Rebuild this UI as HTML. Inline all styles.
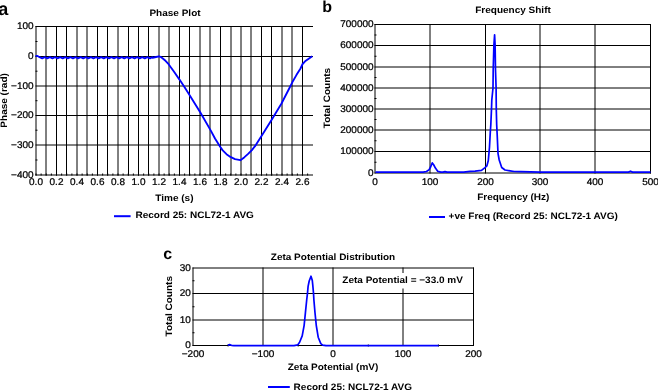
<!DOCTYPE html>
<html><head><meta charset="utf-8"><style>
html,body{margin:0;padding:0;background:#fff;}
body{width:658px;height:390px;overflow:hidden;}
svg{display:block;font-family:'Liberation Sans',Arial,sans-serif;text-rendering:geometricPrecision;}
text{fill:#000;} .r{stroke:#000;stroke-width:0.25px;}
</style></head><body>
<svg width="658" height="390" viewBox="0 0 658 390">
<rect width="658" height="390" fill="#fff"/>
<line x1="36.0" y1="26.0" x2="36.0" y2="175.5" stroke="#000" stroke-width="1"/>
<line x1="46.0" y1="26.0" x2="46.0" y2="175.5" stroke="#000" stroke-width="1"/>
<line x1="56.5" y1="26.0" x2="56.5" y2="175.5" stroke="#000" stroke-width="1"/>
<line x1="66.5" y1="26.0" x2="66.5" y2="175.5" stroke="#000" stroke-width="1"/>
<line x1="77.0" y1="26.0" x2="77.0" y2="175.5" stroke="#000" stroke-width="1"/>
<line x1="87.0" y1="26.0" x2="87.0" y2="175.5" stroke="#000" stroke-width="1"/>
<line x1="97.5" y1="26.0" x2="97.5" y2="175.5" stroke="#000" stroke-width="1"/>
<line x1="107.5" y1="26.0" x2="107.5" y2="175.5" stroke="#000" stroke-width="1"/>
<line x1="118.0" y1="26.0" x2="118.0" y2="175.5" stroke="#000" stroke-width="1"/>
<line x1="128.5" y1="26.0" x2="128.5" y2="175.5" stroke="#000" stroke-width="1"/>
<line x1="138.5" y1="26.0" x2="138.5" y2="175.5" stroke="#000" stroke-width="1"/>
<line x1="148.5" y1="26.0" x2="148.5" y2="175.5" stroke="#000" stroke-width="1"/>
<line x1="159.0" y1="26.0" x2="159.0" y2="175.5" stroke="#000" stroke-width="1"/>
<line x1="169.0" y1="26.0" x2="169.0" y2="175.5" stroke="#000" stroke-width="1"/>
<line x1="179.5" y1="26.0" x2="179.5" y2="175.5" stroke="#000" stroke-width="1"/>
<line x1="189.5" y1="26.0" x2="189.5" y2="175.5" stroke="#000" stroke-width="1"/>
<line x1="200.0" y1="26.0" x2="200.0" y2="175.5" stroke="#000" stroke-width="1"/>
<line x1="210.0" y1="26.0" x2="210.0" y2="175.5" stroke="#000" stroke-width="1"/>
<line x1="220.5" y1="26.0" x2="220.5" y2="175.5" stroke="#000" stroke-width="1"/>
<line x1="231.0" y1="26.0" x2="231.0" y2="175.5" stroke="#000" stroke-width="1"/>
<line x1="241.0" y1="26.0" x2="241.0" y2="175.5" stroke="#000" stroke-width="1"/>
<line x1="251.0" y1="26.0" x2="251.0" y2="175.5" stroke="#000" stroke-width="1"/>
<line x1="261.5" y1="26.0" x2="261.5" y2="175.5" stroke="#000" stroke-width="1"/>
<line x1="271.5" y1="26.0" x2="271.5" y2="175.5" stroke="#000" stroke-width="1"/>
<line x1="282.0" y1="26.0" x2="282.0" y2="175.5" stroke="#000" stroke-width="1"/>
<line x1="292.0" y1="26.0" x2="292.0" y2="175.5" stroke="#000" stroke-width="1"/>
<line x1="302.5" y1="26.0" x2="302.5" y2="175.5" stroke="#000" stroke-width="1"/>
<line x1="35.5" y1="26.5" x2="313.0" y2="26.5" stroke="#000" stroke-width="1"/>
<line x1="35.5" y1="56.5" x2="313.0" y2="56.5" stroke="#000" stroke-width="1"/>
<line x1="35.5" y1="86.0" x2="313.0" y2="86.0" stroke="#000" stroke-width="1"/>
<line x1="35.5" y1="115.5" x2="313.0" y2="115.5" stroke="#000" stroke-width="1"/>
<line x1="35.5" y1="145.0" x2="313.0" y2="145.0" stroke="#000" stroke-width="1"/>
<line x1="35.5" y1="175.0" x2="313.0" y2="175.0" stroke="#000" stroke-width="1"/>
<text class="r" transform="translate(33.6,29.3) scale(1,0.97)" font-size="10" font-weight="normal" text-anchor="end">100</text>
<text class="r" transform="translate(33.6,59.3) scale(1,0.97)" font-size="10" font-weight="normal" text-anchor="end">0</text>
<text class="r" transform="translate(33.6,88.8) scale(1,0.97)" font-size="10" font-weight="normal" text-anchor="end">−100</text>
<text class="r" transform="translate(33.6,118.3) scale(1,0.97)" font-size="10" font-weight="normal" text-anchor="end">−200</text>
<text class="r" transform="translate(33.6,147.8) scale(1,0.97)" font-size="10" font-weight="normal" text-anchor="end">−300</text>
<text class="r" transform="translate(33.6,177.8) scale(1,0.97)" font-size="10" font-weight="normal" text-anchor="end">−400</text>
<text class="r" transform="translate(36.0,185.3) scale(1,0.97)" font-size="10" font-weight="normal" text-anchor="middle">0.0</text>
<text class="r" transform="translate(56.5,185.3) scale(1,0.97)" font-size="10" font-weight="normal" text-anchor="middle">0.2</text>
<text class="r" transform="translate(77.0,185.3) scale(1,0.97)" font-size="10" font-weight="normal" text-anchor="middle">0.4</text>
<text class="r" transform="translate(97.5,185.3) scale(1,0.97)" font-size="10" font-weight="normal" text-anchor="middle">0.6</text>
<text class="r" transform="translate(118.0,185.3) scale(1,0.97)" font-size="10" font-weight="normal" text-anchor="middle">0.8</text>
<text class="r" transform="translate(138.5,185.3) scale(1,0.97)" font-size="10" font-weight="normal" text-anchor="middle">1.0</text>
<text class="r" transform="translate(159.0,185.3) scale(1,0.97)" font-size="10" font-weight="normal" text-anchor="middle">1.2</text>
<text class="r" transform="translate(179.5,185.3) scale(1,0.97)" font-size="10" font-weight="normal" text-anchor="middle">1.4</text>
<text class="r" transform="translate(200.0,185.3) scale(1,0.97)" font-size="10" font-weight="normal" text-anchor="middle">1.6</text>
<text class="r" transform="translate(220.5,185.3) scale(1,0.97)" font-size="10" font-weight="normal" text-anchor="middle">1.8</text>
<text class="r" transform="translate(241.0,185.3) scale(1,0.97)" font-size="10" font-weight="normal" text-anchor="middle">2.0</text>
<text class="r" transform="translate(261.5,185.3) scale(1,0.97)" font-size="10" font-weight="normal" text-anchor="middle">2.2</text>
<text class="r" transform="translate(282.0,185.3) scale(1,0.97)" font-size="10" font-weight="normal" text-anchor="middle">2.4</text>
<text class="r" transform="translate(302.5,185.3) scale(1,0.97)" font-size="10" font-weight="normal" text-anchor="middle">2.6</text>
<text transform="translate(175,15.8) scale(1,0.93)" font-size="10" font-weight="bold" text-anchor="middle">Phase Plot</text>
<text transform="translate(174.4,200.6) scale(1,0.93)" font-size="10" font-weight="bold" text-anchor="middle">Time (s)</text>
<text transform="translate(6.6,100.4) rotate(-90) scale(1,0.93)" font-size="10" font-weight="bold" text-anchor="middle">Phase (rad)</text>
<text transform="translate(-1.8,14.8) scale(1,1.0)" font-size="18" font-weight="bold" text-anchor="start">a</text>
<line x1="114" y1="216.2" x2="130.6" y2="216.2" stroke="#0000ff" stroke-width="2"/>
<text transform="translate(135.5,217.8) scale(1,0.93)" font-size="10" font-weight="bold" text-anchor="start">Record 25: NCL72-1 AVG</text>
<rect x="35.5" y="41.0" width="2" height="1" fill="#000"/>
<rect x="35.5" y="70.7" width="2" height="1" fill="#000"/>
<rect x="35.5" y="100.2" width="2" height="1" fill="#000"/>
<rect x="35.5" y="129.7" width="2" height="1" fill="#000"/>
<rect x="35.5" y="159.5" width="2" height="1" fill="#000"/>
<rect x="35.500" y="173.5" width="1" height="2" fill="#000"/>
<rect x="40.625" y="173.5" width="1" height="2" fill="#000"/>
<rect x="45.750" y="173.5" width="1" height="2" fill="#000"/>
<rect x="50.875" y="173.5" width="1" height="2" fill="#000"/>
<rect x="56.000" y="173.5" width="1" height="2" fill="#000"/>
<rect x="61.125" y="173.5" width="1" height="2" fill="#000"/>
<rect x="66.250" y="173.5" width="1" height="2" fill="#000"/>
<rect x="71.375" y="173.5" width="1" height="2" fill="#000"/>
<rect x="76.500" y="173.5" width="1" height="2" fill="#000"/>
<rect x="81.625" y="173.5" width="1" height="2" fill="#000"/>
<rect x="86.750" y="173.5" width="1" height="2" fill="#000"/>
<rect x="91.875" y="173.5" width="1" height="2" fill="#000"/>
<rect x="97.000" y="173.5" width="1" height="2" fill="#000"/>
<rect x="102.125" y="173.5" width="1" height="2" fill="#000"/>
<rect x="107.250" y="173.5" width="1" height="2" fill="#000"/>
<rect x="112.375" y="173.5" width="1" height="2" fill="#000"/>
<rect x="117.500" y="173.5" width="1" height="2" fill="#000"/>
<rect x="122.625" y="173.5" width="1" height="2" fill="#000"/>
<rect x="127.750" y="173.5" width="1" height="2" fill="#000"/>
<rect x="132.875" y="173.5" width="1" height="2" fill="#000"/>
<rect x="138.000" y="173.5" width="1" height="2" fill="#000"/>
<rect x="143.125" y="173.5" width="1" height="2" fill="#000"/>
<rect x="148.250" y="173.5" width="1" height="2" fill="#000"/>
<rect x="153.375" y="173.5" width="1" height="2" fill="#000"/>
<rect x="158.500" y="173.5" width="1" height="2" fill="#000"/>
<rect x="163.625" y="173.5" width="1" height="2" fill="#000"/>
<rect x="168.750" y="173.5" width="1" height="2" fill="#000"/>
<rect x="173.875" y="173.5" width="1" height="2" fill="#000"/>
<rect x="179.000" y="173.5" width="1" height="2" fill="#000"/>
<rect x="184.125" y="173.5" width="1" height="2" fill="#000"/>
<rect x="189.250" y="173.5" width="1" height="2" fill="#000"/>
<rect x="194.375" y="173.5" width="1" height="2" fill="#000"/>
<rect x="199.500" y="173.5" width="1" height="2" fill="#000"/>
<rect x="204.625" y="173.5" width="1" height="2" fill="#000"/>
<rect x="209.750" y="173.5" width="1" height="2" fill="#000"/>
<rect x="214.875" y="173.5" width="1" height="2" fill="#000"/>
<rect x="220.000" y="173.5" width="1" height="2" fill="#000"/>
<rect x="225.125" y="173.5" width="1" height="2" fill="#000"/>
<rect x="230.250" y="173.5" width="1" height="2" fill="#000"/>
<rect x="235.375" y="173.5" width="1" height="2" fill="#000"/>
<rect x="240.500" y="173.5" width="1" height="2" fill="#000"/>
<rect x="245.625" y="173.5" width="1" height="2" fill="#000"/>
<rect x="250.750" y="173.5" width="1" height="2" fill="#000"/>
<rect x="255.875" y="173.5" width="1" height="2" fill="#000"/>
<rect x="261.000" y="173.5" width="1" height="2" fill="#000"/>
<rect x="266.125" y="173.5" width="1" height="2" fill="#000"/>
<rect x="271.250" y="173.5" width="1" height="2" fill="#000"/>
<rect x="276.375" y="173.5" width="1" height="2" fill="#000"/>
<rect x="281.500" y="173.5" width="1" height="2" fill="#000"/>
<rect x="286.625" y="173.5" width="1" height="2" fill="#000"/>
<rect x="291.750" y="173.5" width="1" height="2" fill="#000"/>
<rect x="296.875" y="173.5" width="1" height="2" fill="#000"/>
<rect x="302.000" y="173.5" width="1" height="2" fill="#000"/>
<rect x="307.125" y="173.5" width="1" height="2" fill="#000"/>
<polyline points="35.50,55.90 37.50,56.00 39.60,57.20 42.20,58.30 44.73,57.20 47.33,58.30 49.86,57.20 52.46,58.30 54.99,57.20 57.59,58.30 60.12,57.20 62.72,58.30 65.25,57.20 67.85,58.30 70.38,57.20 72.98,58.30 75.51,57.20 78.11,58.30 80.64,57.20 83.24,58.30 85.77,57.20 88.37,58.30 90.90,57.20 93.50,58.30 96.03,57.20 98.63,58.30 101.16,57.20 103.76,58.30 106.29,57.20 108.89,58.30 111.42,57.20 114.02,58.30 116.55,57.20 119.15,58.30 121.68,57.20 124.28,58.30 126.81,57.20 129.41,58.30 131.94,57.20 134.54,58.30 137.07,57.20 139.67,58.30 142.20,57.20 144.80,58.30 147.33,57.20 149.93,58.30 152.46,57.20 152.60,57.80 156.00,57.00 159.00,56.30 160.50,56.80 162.80,58.50 165.50,60.80 168.60,64.20 173.70,71.30 179.50,79.60 184.60,87.30 189.20,94.40 200.50,112.70 210.80,130.60 215.00,138.50 220.00,146.50 222.70,150.40 226.50,154.20 230.40,156.90 235.00,159.20 240.40,160.20 244.20,157.40 248.10,153.90 251.90,150.10 255.80,145.10 261.20,136.60 272.30,118.80 281.50,103.50 288.70,89.50 292.30,82.30 296.40,75.10 300.50,68.50 302.60,64.00 305.10,61.30 308.70,58.70 312.30,56.20" fill="none" stroke="#0000ff" stroke-width="1.85" stroke-linejoin="round" stroke-linecap="butt"/>
<line x1="375.0" y1="24.0" x2="375.0" y2="173.5" stroke="#000" stroke-width="1"/>
<line x1="430.0" y1="24.0" x2="430.0" y2="173.5" stroke="#000" stroke-width="1"/>
<line x1="485.5" y1="24.0" x2="485.5" y2="173.5" stroke="#000" stroke-width="1"/>
<line x1="540.0" y1="24.0" x2="540.0" y2="173.5" stroke="#000" stroke-width="1"/>
<line x1="595.0" y1="24.0" x2="595.0" y2="173.5" stroke="#000" stroke-width="1"/>
<line x1="650.5" y1="24.0" x2="650.5" y2="173.5" stroke="#000" stroke-width="1"/>
<line x1="374.5" y1="24.5" x2="651" y2="24.5" stroke="#000" stroke-width="1"/>
<line x1="374.5" y1="45.5" x2="651" y2="45.5" stroke="#000" stroke-width="1"/>
<line x1="374.5" y1="67.0" x2="651" y2="67.0" stroke="#000" stroke-width="1"/>
<line x1="374.5" y1="88.0" x2="651" y2="88.0" stroke="#000" stroke-width="1"/>
<line x1="374.5" y1="109.0" x2="651" y2="109.0" stroke="#000" stroke-width="1"/>
<line x1="374.5" y1="130.0" x2="651" y2="130.0" stroke="#000" stroke-width="1"/>
<line x1="374.5" y1="151.5" x2="651" y2="151.5" stroke="#000" stroke-width="1"/>
<line x1="374.5" y1="173.0" x2="651" y2="173.0" stroke="#000" stroke-width="1"/>
<text class="r" transform="translate(373.6,27.3) scale(1,0.97)" font-size="10" font-weight="normal" text-anchor="end">700000</text>
<text class="r" transform="translate(373.6,48.3) scale(1,0.97)" font-size="10" font-weight="normal" text-anchor="end">600000</text>
<text class="r" transform="translate(373.6,69.8) scale(1,0.97)" font-size="10" font-weight="normal" text-anchor="end">500000</text>
<text class="r" transform="translate(373.6,90.8) scale(1,0.97)" font-size="10" font-weight="normal" text-anchor="end">400000</text>
<text class="r" transform="translate(373.6,111.8) scale(1,0.97)" font-size="10" font-weight="normal" text-anchor="end">300000</text>
<text class="r" transform="translate(373.6,132.8) scale(1,0.97)" font-size="10" font-weight="normal" text-anchor="end">200000</text>
<text class="r" transform="translate(373.6,154.3) scale(1,0.97)" font-size="10" font-weight="normal" text-anchor="end">100000</text>
<text class="r" transform="translate(373.6,175.8) scale(1,0.97)" font-size="10" font-weight="normal" text-anchor="end">0</text>
<text class="r" transform="translate(375.0,185.3) scale(1,0.97)" font-size="10" font-weight="normal" text-anchor="middle">0</text>
<text class="r" transform="translate(430.0,185.3) scale(1,0.97)" font-size="10" font-weight="normal" text-anchor="middle">100</text>
<text class="r" transform="translate(485.5,185.3) scale(1,0.97)" font-size="10" font-weight="normal" text-anchor="middle">200</text>
<text class="r" transform="translate(540.0,185.3) scale(1,0.97)" font-size="10" font-weight="normal" text-anchor="middle">300</text>
<text class="r" transform="translate(595.0,185.3) scale(1,0.97)" font-size="10" font-weight="normal" text-anchor="middle">400</text>
<text class="r" transform="translate(650.5,185.3) scale(1,0.97)" font-size="10" font-weight="normal" text-anchor="middle">500</text>
<text transform="translate(513,13.4) scale(1,0.93)" font-size="10" font-weight="bold" text-anchor="middle">Frequency Shift</text>
<text transform="translate(513.3,199.8) scale(1,0.93)" font-size="10" font-weight="bold" text-anchor="middle">Frequency (Hz)</text>
<text transform="translate(330.2,98) rotate(-90) scale(1,0.93)" font-size="10" font-weight="bold" text-anchor="middle">Total Counts</text>
<text transform="translate(322.3,11.8) scale(1,1.0)" font-size="16" font-weight="bold" text-anchor="start">b</text>
<line x1="429" y1="217" x2="445" y2="217" stroke="#0000ff" stroke-width="2"/>
<text transform="translate(448.6,218.5) scale(1,0.93)" font-size="10" font-weight="bold" text-anchor="start">+ve Freq (Record 25: NCL72-1 AVG)</text>
<rect x="374.5" y="34.5" width="2" height="1" fill="#000"/>
<rect x="374.5" y="55.75" width="2" height="1" fill="#000"/>
<rect x="374.5" y="77.0" width="2" height="1" fill="#000"/>
<rect x="374.5" y="98.0" width="2" height="1" fill="#000"/>
<rect x="374.5" y="119.0" width="2" height="1" fill="#000"/>
<rect x="374.5" y="140.25" width="2" height="1" fill="#000"/>
<rect x="374.5" y="161.75" width="2" height="1" fill="#000"/>
<polyline points="375.50,172.10 420.00,172.10 423.10,172.10 426.50,171.50 429.20,169.60 430.80,166.50 432.30,162.90 433.80,165.00 435.40,168.10 437.70,171.20 440.80,172.10 443.00,172.10 445.00,171.60 447.00,172.10 463.70,172.10 470.10,171.40 475.10,171.10 481.50,170.40 484.70,167.80 486.90,165.80 488.30,160.50 489.50,147.00 490.30,132.00 490.80,125.00 491.50,109.00 491.80,100.00 493.00,88.00 493.20,70.00 493.90,45.00 494.60,34.80 495.10,45.00 495.50,70.00 496.10,88.00 496.20,100.00 496.30,110.00 496.70,125.00 497.20,135.00 498.00,153.30 499.20,160.00 501.70,167.50 505.00,170.00 510.00,170.80 514.20,171.50 520.80,171.70 540.00,172.10 628.50,172.10 630.50,171.20 632.50,172.10 650.50,172.10" fill="none" stroke="#0000ff" stroke-width="1.7" stroke-linejoin="round" stroke-linecap="butt"/>
<line x1="193.0" y1="267.5" x2="193.0" y2="346" stroke="#000" stroke-width="1"/>
<line x1="263.0" y1="267.5" x2="263.0" y2="346" stroke="#000" stroke-width="1"/>
<line x1="333.0" y1="267.5" x2="333.0" y2="346" stroke="#000" stroke-width="1"/>
<line x1="403.0" y1="267.5" x2="403.0" y2="346" stroke="#000" stroke-width="1"/>
<line x1="473.5" y1="267.5" x2="473.5" y2="346" stroke="#000" stroke-width="1"/>
<line x1="192.5" y1="268.0" x2="474" y2="268.0" stroke="#000" stroke-width="1"/>
<line x1="192.5" y1="293.5" x2="474" y2="293.5" stroke="#000" stroke-width="1"/>
<line x1="192.5" y1="320.0" x2="474" y2="320.0" stroke="#000" stroke-width="1"/>
<line x1="192.5" y1="345.5" x2="474" y2="345.5" stroke="#000" stroke-width="1"/>
<rect x="340" y="273" width="125" height="15.5" fill="#fff"/>
<text transform="translate(342.3,283.3) scale(1,0.93)" font-size="10" font-weight="bold" text-anchor="start">Zeta Potential = −33.0 mV</text>
<text class="r" transform="translate(190.9,270.8) scale(1,0.97)" font-size="10" font-weight="normal" text-anchor="end">30</text>
<text class="r" transform="translate(190.9,296.3) scale(1,0.97)" font-size="10" font-weight="normal" text-anchor="end">20</text>
<text class="r" transform="translate(190.9,322.8) scale(1,0.97)" font-size="10" font-weight="normal" text-anchor="end">10</text>
<text class="r" transform="translate(190.9,348.3) scale(1,0.97)" font-size="10" font-weight="normal" text-anchor="end">0</text>
<text class="r" transform="translate(193.0,357.3) scale(1,0.97)" font-size="10" font-weight="normal" text-anchor="middle">−200</text>
<text class="r" transform="translate(263.0,357.3) scale(1,0.97)" font-size="10" font-weight="normal" text-anchor="middle">−100</text>
<text class="r" transform="translate(333.0,357.3) scale(1,0.97)" font-size="10" font-weight="normal" text-anchor="middle">0</text>
<text class="r" transform="translate(403.0,357.3) scale(1,0.97)" font-size="10" font-weight="normal" text-anchor="middle">100</text>
<text class="r" transform="translate(473.5,357.3) scale(1,0.97)" font-size="10" font-weight="normal" text-anchor="middle">200</text>
<text transform="translate(333,260.2) scale(1,0.93)" font-size="10" font-weight="bold" text-anchor="middle">Zeta Potential Distribution</text>
<text transform="translate(333,369.6) scale(1,0.93)" font-size="10" font-weight="bold" text-anchor="middle">Zeta Potential (mV)</text>
<text transform="translate(171.9,306.2) rotate(-90) scale(1,0.93)" font-size="10" font-weight="bold" text-anchor="middle">Total Counts</text>
<text transform="translate(163.2,259.1) scale(1,1.0)" font-size="16" font-weight="bold" text-anchor="start">c</text>
<line x1="268" y1="387" x2="289.8" y2="387" stroke="#0000ff" stroke-width="2"/>
<text transform="translate(293.6,390.0) scale(1,0.93)" font-size="10" font-weight="bold" text-anchor="start">Record 25: NCL72-1 AVG</text>
<rect x="192.5" y="280.25" width="2" height="1" fill="#000"/>
<rect x="192.5" y="306.25" width="2" height="1" fill="#000"/>
<rect x="192.5" y="332.25" width="2" height="1" fill="#000"/>
<rect x="227.560" y="344.5" width="1" height="2" fill="#000"/>
<rect x="297.680" y="344.5" width="1" height="2" fill="#000"/>
<rect x="367.800" y="344.5" width="1" height="2" fill="#000"/>
<rect x="437.920" y="344.5" width="1" height="2" fill="#000"/>
<polyline points="227.80,345.20 229.50,344.60 231.50,345.30 234.00,345.70 294.00,345.70 297.70,344.90 299.60,342.30 302.20,335.90 304.10,325.60 305.40,312.80 306.70,300.00 307.50,293.10 308.10,286.40 309.20,281.00 311.00,276.20 312.30,280.50 312.80,285.40 313.50,293.10 313.90,300.00 315.00,312.80 316.30,325.60 318.20,337.20 320.80,343.60 322.70,345.10 326.00,345.70 438.70,345.70" fill="none" stroke="#0000ff" stroke-width="1.7" stroke-linejoin="round" stroke-linecap="butt"/>
</svg>
</body></html>
